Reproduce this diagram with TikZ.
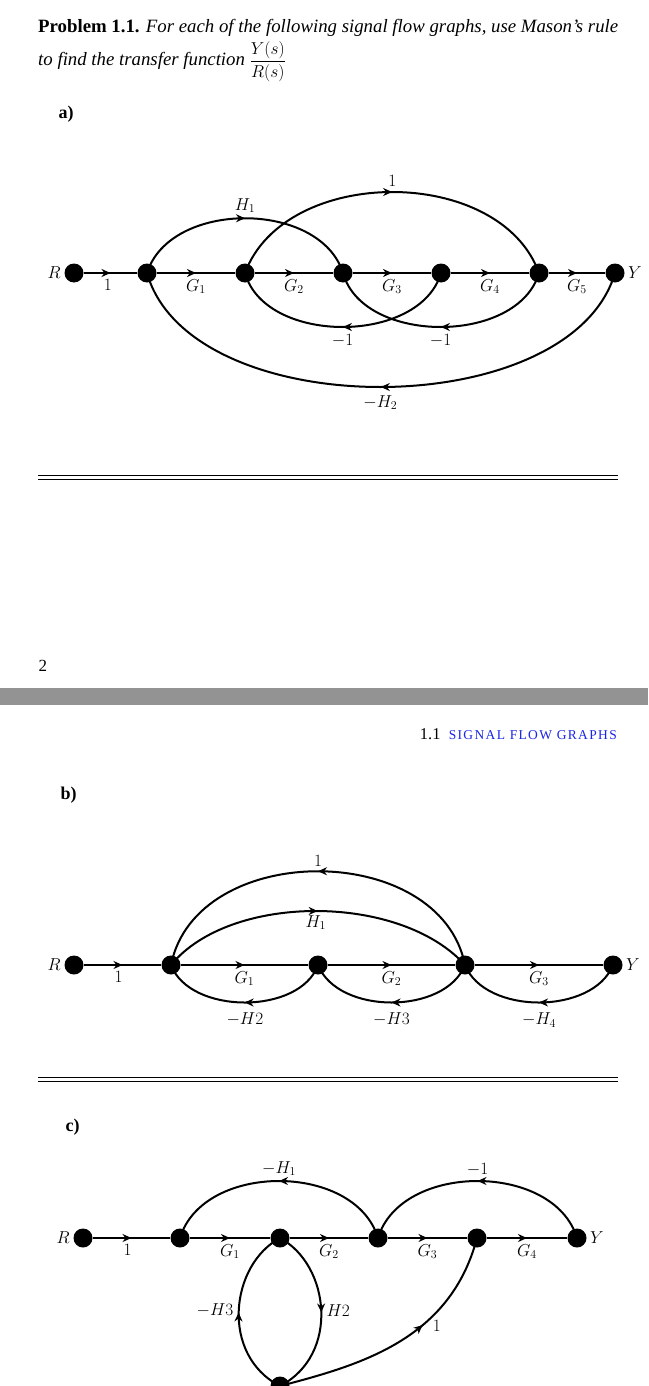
\documentclass[tikz,border=0pt]{standalone}
\usepackage{fontspec}
\setmainfont{Liberation Serif}
\usetikzlibrary{decorations.markings,arrows.meta}
\begin{document}
\begin{tikzpicture}[x=1pt,y=-1pt,
  dot/.style={circle,fill=black,inner sep=0pt,minimum size=19pt},
  br/.style={line width=2pt,postaction={decorate},decoration={markings,mark=at position #1 with {\arrow{Stealth[length=9pt,width=8pt]}}}},
  br/.default=0.5,
  lb/.style={font=\fontsize{17}{20}\selectfont}]
\useasboundingbox (0,0) rectangle (648,1386);
\clip (0,0) rectangle (648,1386);
% header
\node[anchor=base west,font=\fontsize{18.8}{21}\selectfont,inner sep=0pt] (hd) at (38,33) {\textbf{Problem 1.1.} \textit{For each of the following signal flow graphs, use Mason's rule}};
\node[anchor=base west,font=\fontsize{18.8}{21}\selectfont,inner sep=0pt] (hd2) at (38,66) {\textit{to find the transfer function} $\displaystyle\frac{Y(s)}{R(s)}$};
\node[anchor=base west,font=\bfseries\fontsize{18}{21}\selectfont] (la) at (55,119) {a)};
% graph a
\foreach \n/\x in {aR/74,a1/147,a2/245,a3/343,a4/441,a5/539,aY/615}
  \node[dot] (\n) at (\x,273) {};
\node[lb,left] (tR) at (aR.west) {$R$};
\node[lb,right] (tY) at (aY.east) {$Y$};
\draw[br] (aR) -- node[lb,below=2pt,pos=.45]{$1$} (a1);
\draw[br] (a1) -- node[lb,below=2pt]{$G_1$} (a2);
\draw[br] (a2) -- node[lb,below=2pt]{$G_2$} (a3);
\draw[br] (a3) -- node[lb,below=2pt]{$G_3$} (a4);
\draw[br] (a4) -- node[lb,below=2pt]{$G_4$} (a5);
\draw[br] (a5) -- node[lb,below=2pt]{$G_5$} (aY);
\draw[br] (a1.center) .. controls (170,200) and (320,200) .. node[lb,above=1pt]{$H_1$} (a3.center);
\draw[br] (a2.center) .. controls (285,165) and (500,165) .. node[lb,above=1pt]{$1$} (a5.center);
\draw[br] (a4.center) .. controls (420,345) and (265,345) .. node[lb,below=3pt]{$-1$} (a2.center);
\draw[br] (a5.center) .. controls (518,345) and (363,345) .. node[lb,below=3pt]{$-1$} (a3.center);
\draw[br] (aY.center) .. controls (570,425) and (190,425) .. node[lb,below=4pt]{$-H_2$} (a1.center);
% rules
\draw[line width=.6pt] (38,475) -- (618,475) (38,479) -- (618,479);
\node[anchor=base west,font=\fontsize{17}{20}\selectfont] (pg) at (35,671) {2};
\fill[gray!85] (0,688) rectangle (648,705);
\node[anchor=base east,font=\fontsize{16.5}{20}\selectfont,inner sep=0pt] (sec) at (617,739) {1.1\enspace\textcolor[rgb]{0.1,0.15,0.9}{\fontsize{13.5}{16}\selectfont\addfontfeature{LetterSpace=10}SIGNAL FLOW GRAPHS}};
\node[anchor=base west,font=\bfseries\fontsize{18}{21}\selectfont] (lb2) at (57,799) {b)};
% graph b
\foreach \n/\x in {bR/74,b1/171,b2/318,b3/465,bY/613}
  \node[dot] (\n) at (\x,965) {};
\node[lb,left] (tR2) at (bR.west) {$R$};
\node[lb,right] (tY2) at (bY.east) {$Y$};
\draw[br] (bR) -- node[lb,below=2pt,pos=.45]{$1$} (b1);
\draw[br] (b1) -- node[lb,below=2pt]{$G_1$} (b2);
\draw[br] (b2) -- node[lb,below=2pt]{$G_2$} (b3);
\draw[br] (b3) -- node[lb,below=2pt]{$G_3$} (bY);
\draw[br] (b3.center) .. controls (440,840) and (196,840) .. node[lb,above=0pt]{$1$} (b1.center);
\draw[br] (b1.center) .. controls (230,893) and (400,893) .. node[lb,below=0pt]{$H_1$} (b3.center);
\draw[br] (b2.center) .. controls (300,1015) and (190,1015) .. node[lb,below=6pt]{$-H2$} (b1.center);
\draw[br] (b3.center) .. controls (445,1015) and (338,1015) .. node[lb,below=6pt]{$-H3$} (b2.center);
\draw[br] (bY.center) .. controls (593,1015) and (485,1015) .. node[lb,below=6pt]{$-H_4$} (b3.center);
\draw[line width=.6pt] (38,1077) -- (618,1077) (38,1081) -- (618,1081);
\node[anchor=base west,font=\bfseries\fontsize{18}{21}\selectfont] (lc) at (62,1131) {c)};
% graph c
\foreach \n/\x in {cR/83,c1/180,c2/280,c3/378,c4/477,cY/577}
  \node[dot] (\n) at (\x,1238) {};
\node[dot] (c6) at (280,1386) {};
\node[lb,left] (tR3) at (cR.west) {$R$};
\node[lb,right] (tY3) at (cY.east) {$Y$};
\draw[br] (cR) -- node[lb,below=2pt,pos=.45]{$1$} (c1);
\draw[br] (c1) -- node[lb,below=2pt]{$G_1$} (c2);
\draw[br] (c2) -- node[lb,below=2pt]{$G_2$} (c3);
\draw[br] (c3) -- node[lb,below=2pt]{$G_3$} (c4);
\draw[br] (c4) -- node[lb,below=2pt]{$G_4$} (cY);
\draw[br] (c3.center) .. controls (355,1162) and (203,1162) .. node[lb,above=1pt]{$-H_1$} (c1.center);
\draw[br] (cY.center) .. controls (554,1162) and (401,1162) .. node[lb,above=1pt]{$-1$} (c3.center);
\draw[br] (c2.center) .. controls (330,1265) and (340,1355) .. node[lb,right=1pt]{$H2$} (c6.center);
\draw[br] (c6.center) .. controls (220,1355) and (230,1265) .. node[lb,left=1pt]{$-H3$} (c2.center);
\draw[br=0.6] (c6.center) .. controls (360,1365) and (450,1340) .. node[lb,pos=.66,below right=-2pt]{$1$} (c4.center);
\end{tikzpicture}
\end{document}
